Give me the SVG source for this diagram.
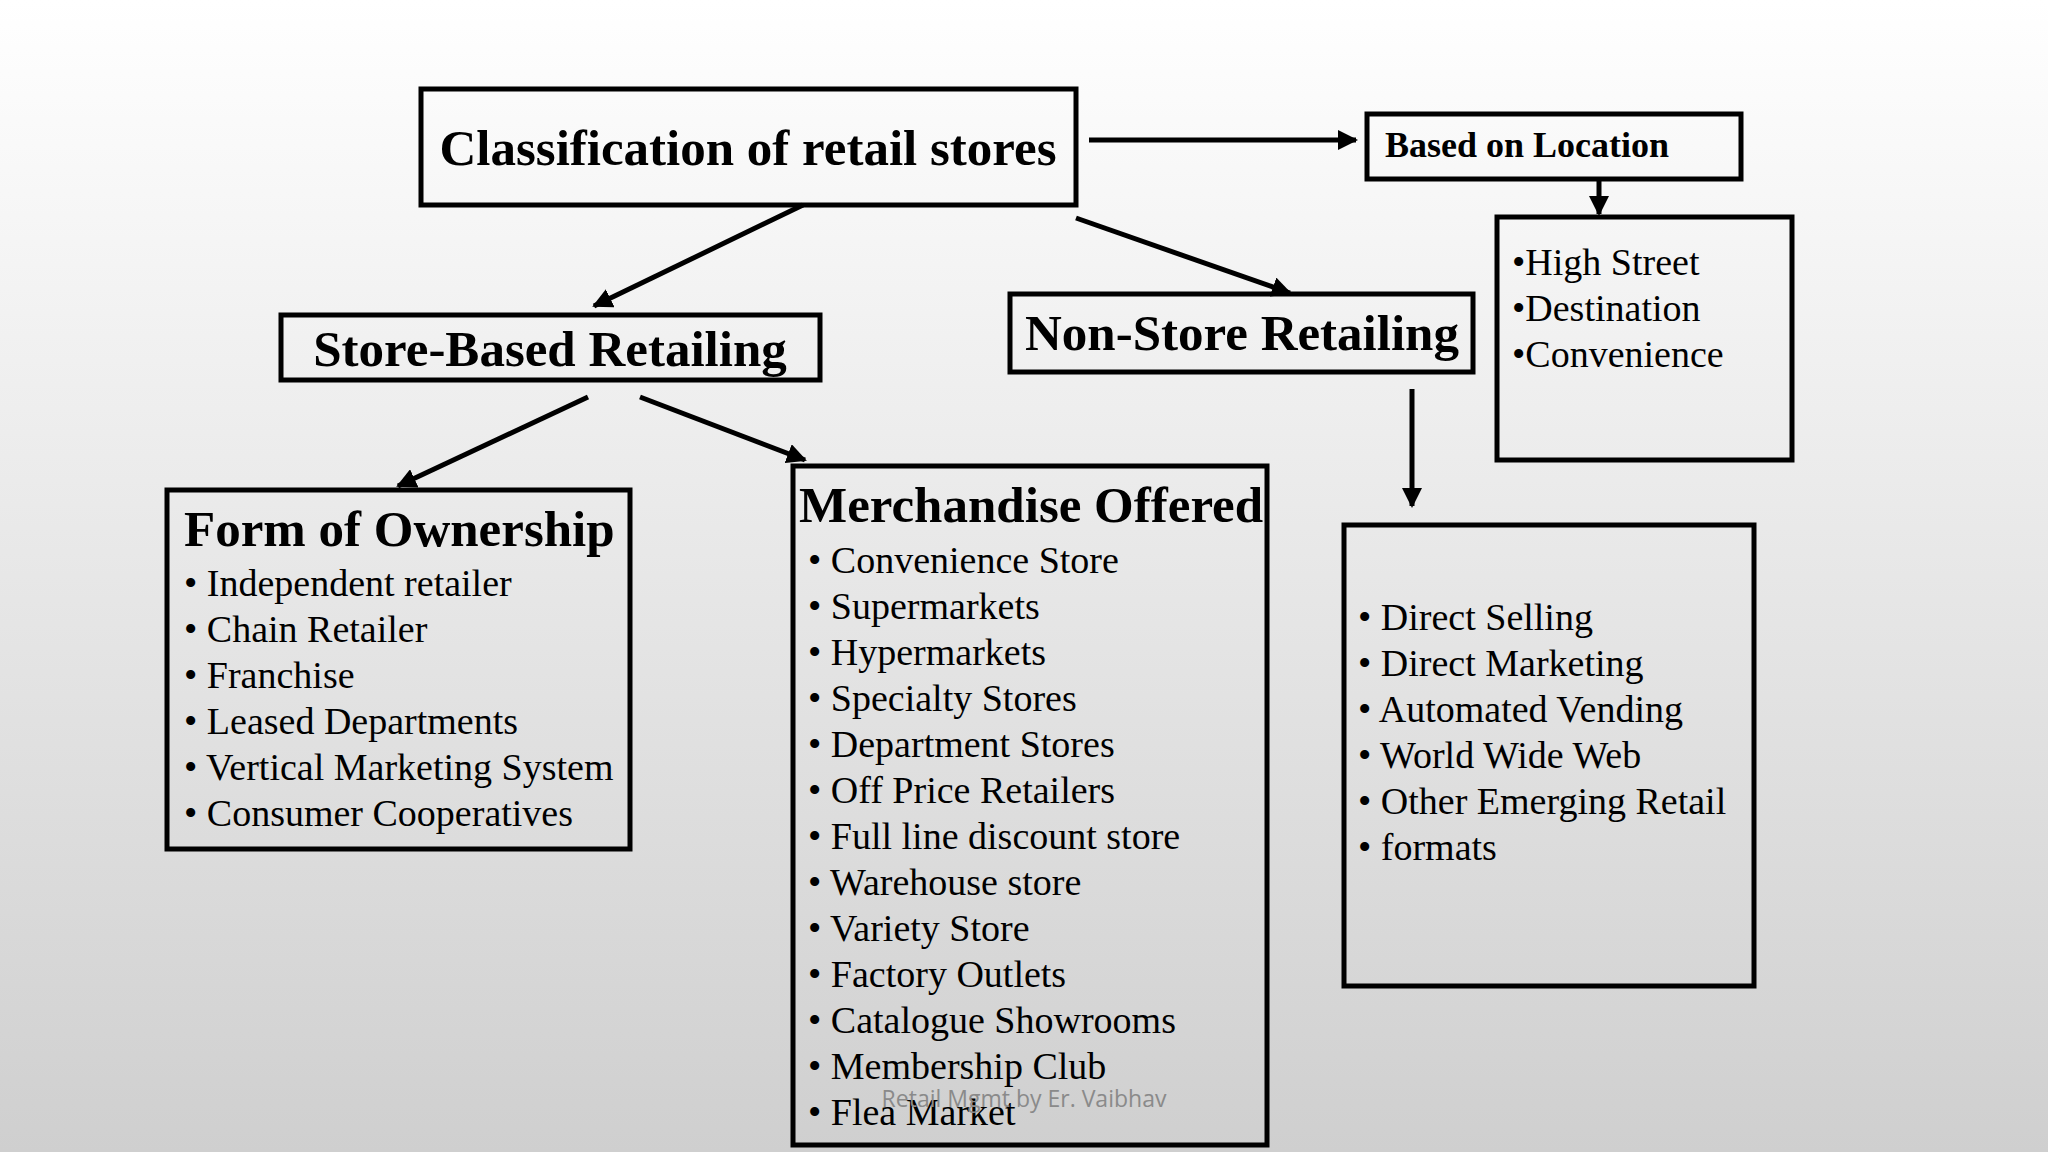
<svg xmlns="http://www.w3.org/2000/svg" width="2048" height="1152" viewBox="0 0 2048 1152">
<defs>
<linearGradient id="bg" x1="0" y1="0" x2="0" y2="1"><stop offset="0" stop-color="#ffffff"/><stop offset="1" stop-color="#cfcfcf"/></linearGradient>
<marker id="ah" viewBox="0 0 10 10" refX="9" refY="5" markerWidth="4" markerHeight="4" orient="auto"><path d="M0,0 L10,5 L0,10 z" fill="#000"/></marker>
<style>
.box{fill:none;stroke:#000;stroke-width:5}
.ln{stroke:#000;stroke-width:5;fill:none;marker-end:url(#ah)}
text{font-family:"Liberation Serif",serif;fill:#000}
.h{font-weight:bold}
.it{font-size:38px}
</style>
</defs>
<rect width="2048" height="1152" fill="url(#bg)"/>
<g id="connectors">
<line class="ln" x1="1089" y1="140" x2="1356" y2="140"/>
<line class="ln" x1="1599" y1="179" x2="1599" y2="214"/>
<line class="ln" x1="803" y1="205" x2="594" y2="306"/>
<line class="ln" x1="1076" y1="218" x2="1290" y2="293"/>
<line class="ln" x1="1412" y1="389" x2="1412" y2="506"/>
<line class="ln" x1="588" y1="397" x2="398" y2="486"/>
<line class="ln" x1="640" y1="397" x2="805" y2="460"/>
</g>
<g id="title"><rect class="box" x="421" y="89" width="655" height="116"/><text class="h" x="748" y="165" font-size="51" text-anchor="middle">Classification of retail stores</text></g>
<g id="location"><rect class="box" x="1367" y="114" width="374" height="65"/><text class="h" x="1385" y="157" font-size="36">Based on Location</text></g>
<g id="locationlist"><rect class="box" x="1497" y="217" width="295" height="243"/>
<text class="it" x="1512" y="275">•High Street</text><text class="it" x="1512" y="321">•Destination</text><text class="it" x="1512" y="367">•Convenience</text></g>
<g id="storebased"><rect class="box" x="281" y="315" width="539" height="65"/><text class="h" x="550" y="366" font-size="51" text-anchor="middle">Store-Based Retailing</text></g>
<g id="nonstore"><rect class="box" x="1010" y="294" width="463" height="78"/><text class="h" x="1242" y="350" font-size="51" text-anchor="middle">Non-Store Retailing</text></g>
<g id="ownership"><rect class="box" x="167" y="490" width="463" height="359"/>
<text class="h" x="184" y="546" font-size="51">Form of Ownership</text>
<text class="it" x="184" y="596">• Independent retailer</text>
<text class="it" x="184" y="642">• Chain Retailer</text>
<text class="it" x="184" y="688">• Franchise</text>
<text class="it" x="184" y="734">• Leased Departments</text>
<text class="it" x="184" y="780">• Vertical Marketing System</text>
<text class="it" x="184" y="826">• Consumer Cooperatives</text></g>
<g id="merchandise"><rect class="box" x="793" y="466" width="474" height="679"/>
<text class="h" x="799" y="522" font-size="51">Merchandise Offered</text>
<text class="it" x="808" y="573">• Convenience Store</text>
<text class="it" x="808" y="619">• Supermarkets</text>
<text class="it" x="808" y="665">• Hypermarkets</text>
<text class="it" x="808" y="711">• Specialty Stores</text>
<text class="it" x="808" y="757">• Department Stores</text>
<text class="it" x="808" y="803">• Off Price Retailers</text>
<text class="it" x="808" y="849">• Full line discount store</text>
<text class="it" x="808" y="895">• Warehouse store</text>
<text class="it" x="808" y="941">• Variety Store</text>
<text class="it" x="808" y="987">• Factory Outlets</text>
<text class="it" x="808" y="1033">• Catalogue Showrooms</text>
<text class="it" x="808" y="1079">• Membership Club</text>
<text class="it" x="808" y="1125">• Flea Market</text></g>
<g id="nonstorelist"><rect class="box" x="1344" y="525" width="410" height="461"/>
<text class="it" x="1358" y="630">• Direct Selling</text>
<text class="it" x="1358" y="676">• Direct Marketing</text>
<text class="it" x="1358" y="722">• Automated Vending</text>
<text class="it" x="1358" y="768">• World Wide Web</text>
<text class="it" x="1358" y="814">• Other Emerging Retail</text>
<text class="it" x="1358" y="860">• formats</text></g>
<text x="1024" y="1107" font-size="23" text-anchor="middle" style="font-family:'Open Sans',sans-serif;fill:#8a8a8a">Retail Mgmt by Er. Vaibhav</text>
</svg>
